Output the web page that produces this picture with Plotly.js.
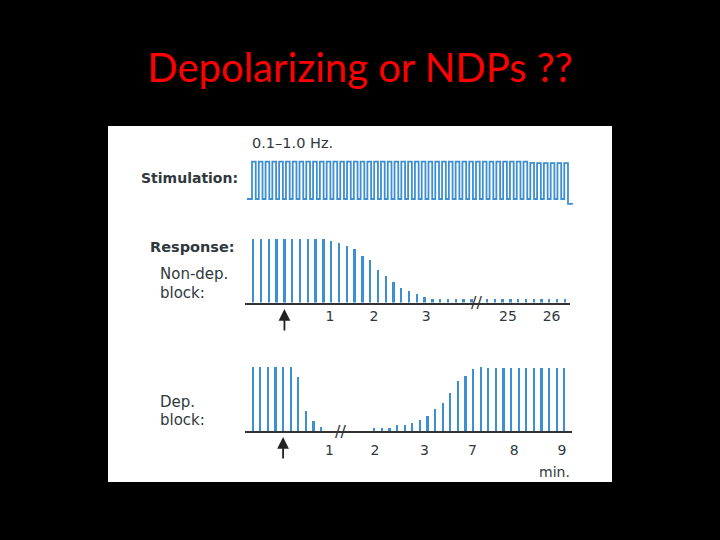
<!DOCTYPE html>
<html><head><meta charset="utf-8">
<script src="https://cdn.plot.ly/plotly-3.0.1.min.js"></script>
<style>html,body{margin:0;padding:0;background:#000;} #chart{width:720px;height:540px;}</style>
</head><body><div id="chart"></div>
<script>
// ---------------- data ----------------
const titleText = 'Depolarizing or NDPs ??';
// stimulation: relative amplitude of each pulse
const stimPulseAmp = [1,1,1,1,1,1,1,1,1,1, 1,1,1,1,1,1,1,1,1,1,
                      1,1,1,1,1,1,1,1,1,1, 1,1,1,1,1,1,1,1,1,1,
                      1,0.97,0.96,0.96,0.96,0.96,0.96];
const stimTailLevel = -0.13;
// non-depolarizing block: bar index and height (% of control twitch)
const nondepIndex  = [0,1,2,3,4,5,6,7,8,9,10,11,12,13,14,15,16,17,18,19,20,21,22,23,24,25,26,27,28,
                      30,31,32,33,34,35,36,37,38,39,40];
const nondepHeight = [100,100,100,100,100,100,100,100,100,100,97,93,89,84,73,66,51,41,32,23,18,13,8,6,6,6,6,6,6,
                      6,6,6,6,6,6,6,6,6,6,6];
const nondepTickPos  = [9.85, 15.5, 22.2, 32.7, 38.3];
const nondepTickText = ['1','2','3','25','26'];
const nondepBreakAt = 28.7;
// depolarizing block
const depIndex  = [0,1,2,3,4,5,6,7,8,9,
                   16,17,18,19,20,21,22,23,24,25,26,27,28,29,30,31,32,33,34,35,36,37,38,39,40,41];
const depHeight = [100,100,100,100,100,100,85,31,15,6,
                   5,5,5,9,10,12,17,24,34,44,60,78,86,97,100,98,98,98,98,98,98,98,98,98,98,98];
const depTickPos  = [10.1, 16.1, 22.6, 28.9, 34.4, 40.7];
const depTickText = ['1','2','3','7','8','9'];
const depBreakAt = 11.5;
const arrowIndex = 4;

// ---------------- helpers ----------------
const W = 720, H = 540;
const fx = p => p / W;
const fy = p => 1 - p / H;
const blue = '#3d8fd3';
const ink = '#2f393d';
const font = 'DejaVu Sans, Arial, sans-serif';

// stimulation trace built from pulse amplitudes
const duty = 0.55;
const sx = [-0.74], sy = [0];
const last = stimPulseAmp.length - 1;
stimPulseAmp.forEach((a, k) => {
  sx.push(k, k, k + duty, k + duty);
  sy.push(0, a, a, k === last ? stimTailLevel : 0);
});
sx.push(last + duty + 0.72); sy.push(stimTailLevel);

const traces = [
  {type:'scatter', mode:'lines', x:sx, y:sy, xaxis:'x', yaxis:'y',
   line:{color:blue, width:1.8}, hoverinfo:'skip'},
  {type:'bar', x:nondepIndex, y:nondepHeight, xaxis:'x2', yaxis:'y2', width:0.3,
   marker:{color:blue, line:{width:0}}, hoverinfo:'skip'},
  {type:'bar', x:depIndex, y:depHeight, xaxis:'x3', yaxis:'y3', width:0.3,
   marker:{color:blue, line:{width:0}}, hoverinfo:'skip'}
];

const baseAxis = {showgrid:false, zeroline:false, showline:true, linecolor:'#333', linewidth:2,
  ticks:'', tickmode:'array', tickfont:{family:font, size:14, color:ink}, fixedrange:true};

const layout = {
  width:W, height:H, margin:{l:0,r:0,t:0,b:0},
  paper_bgcolor:'#000', plot_bgcolor:'rgba(0,0,0,0)', showlegend:false, bargap:0,
  title:{text:titleText, x:0.5, xanchor:'center', y:fy(68), yanchor:'middle',
         font:{family:'Lato, Carlito, sans-serif', size:40, color:'#ff0000'}},
  xaxis:{domain:[fx(245), fx(576)], range:[-1.03, 47.73], visible:false, anchor:'y', fixedrange:true},
  yaxis:{domain:[fy(210), fy(155)], range:[-0.295, 1.18], visible:false, anchor:'x', fixedrange:true},
  xaxis2:Object.assign({}, baseAxis, {domain:[fx(245), fx(570)], range:[-1.065, 40.66], anchor:'y2',
          tickvals:nondepTickPos, ticktext:nondepTickText}),
  yaxis2:{domain:[fy(302.5), fy(232)], range:[0, 110.5], visible:false, anchor:'x2', fixedrange:true},
  xaxis3:Object.assign({}, baseAxis, {domain:[fx(245), fx(572)], range:[-1.01, 42.01], anchor:'y3',
          tickvals:depTickPos, ticktext:depTickText, ticklabelstandoff:5}),
  yaxis3:{domain:[fy(431), fy(360)], range:[0, 110.9], visible:false, anchor:'x3', fixedrange:true},
  shapes:[
    {type:'rect', xref:'paper', yref:'paper', x0:fx(108), x1:fx(612), y0:fy(482), y1:fy(126),
     fillcolor:'#ffffff', line:{width:0}, layer:'below'}
  ],
  annotations:[
    {text:'0.1–1.0 Hz.', xref:'paper', yref:'paper', x:fx(250), y:fy(143), xanchor:'left', yanchor:'middle',
     showarrow:false, font:{family:font, size:14.5, color:ink}},
    {text:'<b>Stimulation:</b>', xref:'paper', yref:'paper', x:fx(139), y:fy(178), xanchor:'left', yanchor:'middle',
     showarrow:false, font:{family:font, size:14, color:ink}},
    {text:'<b>Response:</b>', xref:'paper', yref:'paper', x:fx(148), y:fy(247), xanchor:'left', yanchor:'middle',
     showarrow:false, font:{family:font, size:14.5, color:ink}},
    {text:'Non-dep.', xref:'paper', yref:'paper', x:fx(158), y:fy(274), xanchor:'left', yanchor:'middle',
     showarrow:false, font:{family:font, size:15, color:ink}},
    {text:'block:', xref:'paper', yref:'paper', x:fx(158), y:fy(293), xanchor:'left', yanchor:'middle',
     showarrow:false, font:{family:font, size:15, color:ink}},
    {text:'Dep.', xref:'paper', yref:'paper', x:fx(158), y:fy(402), xanchor:'left', yanchor:'middle',
     showarrow:false, font:{family:font, size:15, color:ink}},
    {text:'block:', xref:'paper', yref:'paper', x:fx(158), y:fy(420), xanchor:'left', yanchor:'middle',
     showarrow:false, font:{family:font, size:15, color:ink}},
    {text:'min.', xref:'paper', yref:'paper', x:fx(572), y:fy(472), xanchor:'right', yanchor:'middle',
     showarrow:false, font:{family:font, size:14, color:ink}},
    {text:'//', xref:'x2', yref:'paper', x:nondepBreakAt, y:fy(302.5), xanchor:'center', yanchor:'middle',
     showarrow:false, font:{family:font, size:16, color:'#333'}},
    {text:'//', xref:'x3', yref:'paper', x:depBreakAt, y:fy(431), xanchor:'center', yanchor:'middle',
     showarrow:false, font:{family:font, size:16, color:'#333'}},
    {text:'', xref:'x2', yref:'paper', x:arrowIndex, y:fy(309), showarrow:true, ax:0, ay:23,
     arrowhead:2, arrowsize:1.3, arrowwidth:1.8, arrowcolor:'#222', standoff:0},
    {text:'', xref:'x3', yref:'paper', x:arrowIndex, y:fy(437), showarrow:true, ax:0, ay:23,
     arrowhead:2, arrowsize:1.3, arrowwidth:1.8, arrowcolor:'#222', standoff:0}
  ]
};

Plotly.newPlot('chart', traces, layout, {staticPlot:true, displayModeBar:false});
</script>
</body></html>
